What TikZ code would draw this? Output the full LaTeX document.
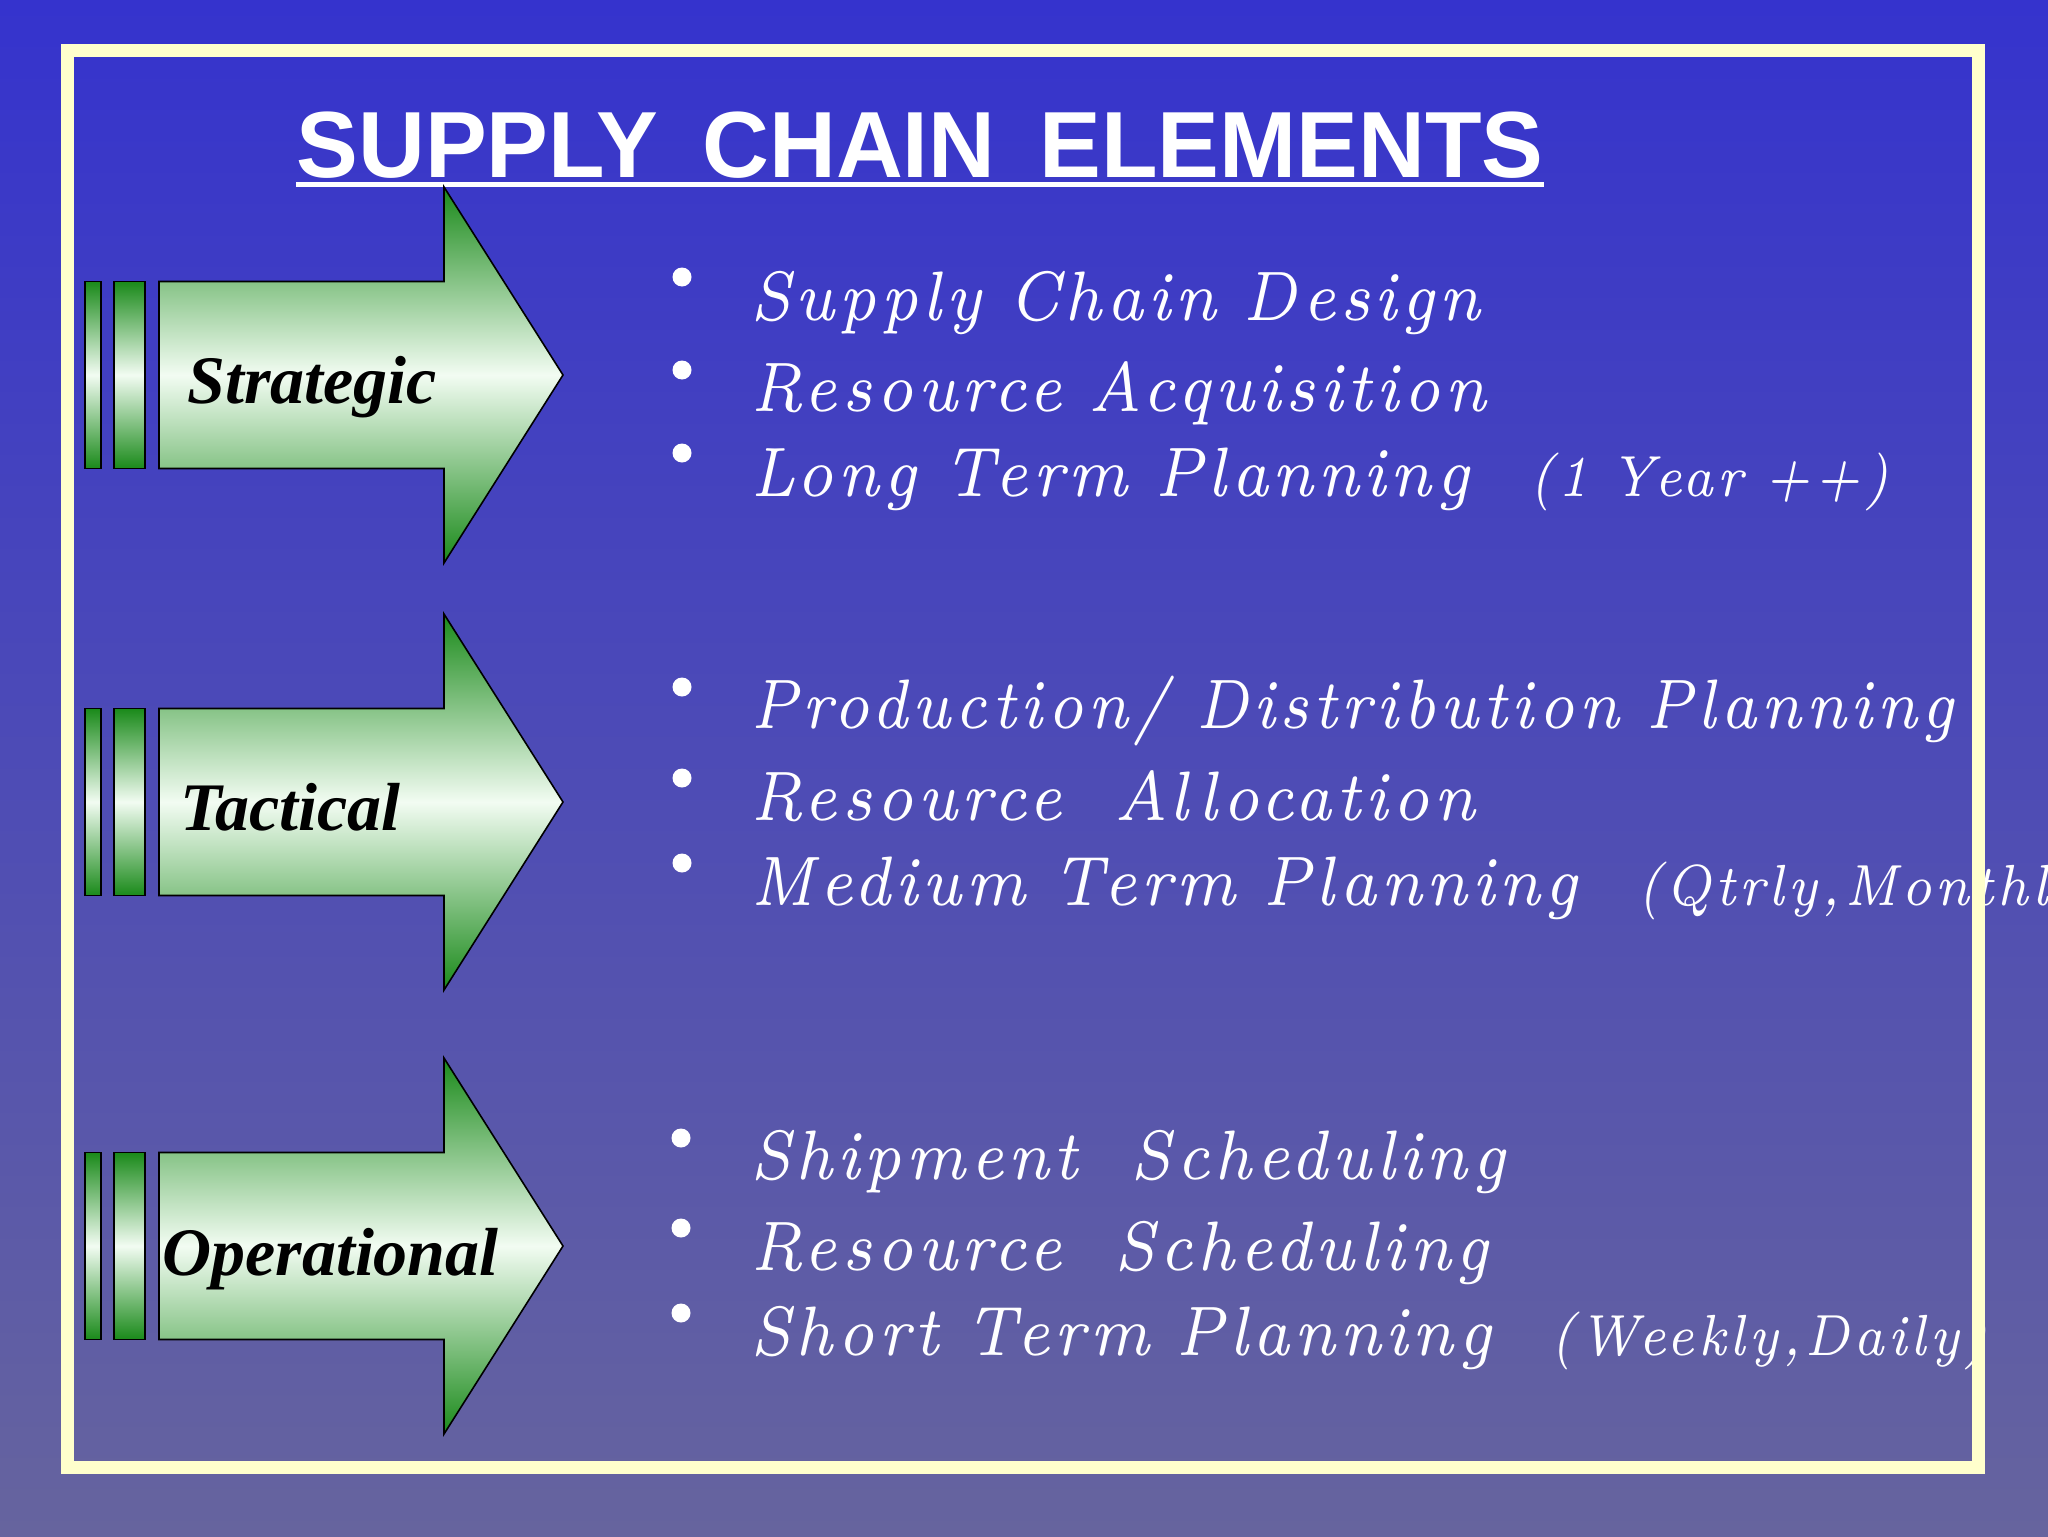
\documentclass[tikz,border=0pt]{standalone}
\usepackage{fontspec}
\usepackage{xcolor}
\usetikzlibrary{positioning}
\newfontfamily\titlefont[FakeStretch=0.985]{Liberation Sans}
\newfontfamily\levelfont{Liberation Serif}
\newfontfamily\itemfont[FakeStretch=0.89, LetterSpace=6, WordSpace=0.85]{lmroman7-italic.otf}
\newfontfamily\itemfontnarrow[FakeStretch=0.87, LetterSpace=6, WordSpace=0.85]{lmroman7-italic.otf}
\definecolor{bgtop}{RGB}{53,51,205}
\definecolor{bgbottom}{RGB}{102,100,158}
\definecolor{framecream}{RGB}{255,255,204}
\definecolor{arrowgreen}{RGB}{26,138,26}
\definecolor{arrowlight}{RGB}{242,252,242}

\begin{document}
\begin{tikzpicture}[x=0.5pt, y=-0.5pt,
    arrowfill/.style={draw=black, line width=0.8pt, top color=arrowgreen, bottom color=arrowgreen, middle color=arrowlight},
    levellabel/.style={anchor=base west, inner sep=0pt, font=\levelfont\bfseries\itshape\fontsize{34}{40}\selectfont},
    itemtext/.style={anchor=base west, inner sep=0pt, text=white, font=\itemfont\fontsize{35}{40}\selectfont},
    periodtext/.style={anchor=base west, inner sep=0pt, text=white, font=\itemfont\fontsize{29}{32}\selectfont},
    bulletdot/.style={circle, fill=white, inner sep=0pt, minimum size=9.5pt},
    frameline/.style={draw=framecream, line width=6.5pt}]
    \useasboundingbox (0,0) rectangle (2048,1536);
    \clip (0,0) rectangle (2048,1536);
    % background
    \fill[top color=bgtop, bottom color=bgbottom] (0,0) rectangle (2048,1536);

    % title
    \node (title) [anchor=base west, inner sep=0pt, text=white, font=\titlefont\bfseries\fontsize{47}{52}\selectfont] at (296,177) {SUPPLY\hspace{22pt}CHAIN\hspace{22pt}ELEMENTS};
    \fill[white] ([yshift=-2.5pt]title.base west) rectangle ([yshift=-5pt]title.base east);

    % arrows with bars
    \foreach \yc in {375,802,1246} {
        \draw[arrowfill] (85,\yc-93.5) rectangle (101,\yc+93.5);
        \draw[arrowfill] (114,\yc-93.5) rectangle (145,\yc+93.5);
        \draw[arrowfill] (159,\yc-93.5) -- (444,\yc-93.5) -- (444,\yc-188)
            -- (563,\yc) -- (444,\yc+188) -- (444,\yc+93.5) -- (159,\yc+93.5) -- cycle;
    }
    \node (strategic) [levellabel] at (187,403) {Strategic};
    \node (tactical) [levellabel] at (180,830) {Tactical};
    \node (operational) [levellabel] at (162,1275) {Operational};

    % strategic items
    \node (b1) [bulletdot] at (682,277) {};
    \node (b2) [bulletdot] at (682,370) {};
    \node (b3) [bulletdot] at (682,453) {};
    \node (design) [itemtext] at (750,320) {Supply Chain Design};
    \node (acquire) [itemtext] at (750,411) {Resource Acquisition};
    \node (longterm) [itemtext] at (750,496) {Long Term Planning};
    \node (longnote) [periodtext, right=58 of longterm.base east, anchor=base west] {(1 Year ++)};

    % tactical items
    \node (b4) [bulletdot] at (682,687) {};
    \node (b5) [bulletdot] at (682,778) {};
    \node (b6) [bulletdot] at (682,863) {};
    \node (prodplan) [itemtext, font=\itemfontnarrow\fontsize{35}{40}\selectfont] at (750,728) {Production/ Distribution Planning};
    \node (alloc) [itemtext] at (750,820) {Resource\ \ Allocation};
    \node (midterm) [itemtext] at (750,905) {Medium Term Planning};
    \node (midnote) [periodtext, right=58 of midterm.base east, anchor=base west] {(Qtrly,Monthly)};

    % operational items
    \node (b7) [bulletdot] at (681,1138) {};
    \node (b8) [bulletdot] at (681,1228) {};
    \node (b9) [bulletdot] at (681,1313) {};
    \node (shipsched) [itemtext] at (750,1179) {Shipment\ \ Scheduling};
    \node (ressched) [itemtext] at (750,1270) {Resource\ \ Scheduling};
    \node (shortterm) [itemtext] at (750,1355) {Short Term Planning};
    \node (shortnote) [periodtext, right=58 of shortterm.base east, anchor=base west] {(Weekly,Daily)};

    % frame
    \draw[frameline] (67.5,50.5) rectangle (1978.5,1467.5);
\end{tikzpicture}
\end{document}
